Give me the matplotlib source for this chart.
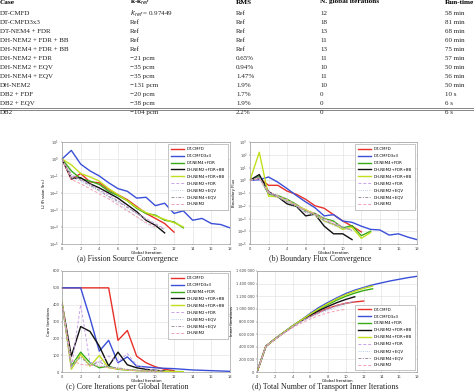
import matplotlib
matplotlib.use('Agg')
import matplotlib.pyplot as plt
from matplotlib.ticker import FuncFormatter, LogLocator, NullLocator


# --- table data ---
cases = ['DT-CMFD', 'DT-CMFD3x3', 'DT-NEM4 + FDR', 'DH-NEM2 + FDR + BB',
         'DH-NEM4 + FDR + BB', 'DH-NEM2 + FDR', 'DH-NEM2 + EQV',
         'DH-NEM4 + EQV', 'DH-NEM2', 'DB2 + FDF', 'DB2 + EQV', 'DB2']
k_diff = ['$k_{ref}$ = 0.97449', 'Ref', 'Ref', 'Ref', 'Ref', '\u221221 pcm',
          '\u221235 pcm', '\u221235 pcm', '\u2212131 pcm', '\u221220 pcm',
          '\u221238 pcm', '\u2212104 pcm']
rms = ['Ref', 'Ref', 'Ref', 'Ref', 'Ref', '0.65%', '0.94%', '1.47%', '1.9%',
       '1.7%', '1.9%', '2.2%']
n_global = ['12', '18', '13', '11', '13', '11', '10', '11', '10', '0', '0', '0']
run_time = ['58 min', '81 min', '68 min', '60 min', '75 min', '57 min',
            '50 min', '56 min', '50 min', '10 s', '6 s', '6 s']

# --- series (one list per case, index = global iteration) ---
labels = ['DT-CMFD', 'DT-CMFD3x3', 'DT-NEM4+FDR', 'DH-NEM2+FDR+BB',
          'DH-NEM4+FDR+BB', 'DH-NEM2+FDR', 'DH-NEM2+EQV', 'DH-NEM4+EQV',
          'DH-NEM2']

# (a) fission source convergence
fis_cmfd = [1, 6.3e-2, 0.14, 4.5e-2, 4e-2, 1.6e-2, 7.9e-3, 4e-3, 1.6e-3,
            6.3e-4, 3.2e-4, 1.6e-4, 5e-5]
fis_cmfd3 = [1, 3.2, 0.5, 0.2, 0.1, 4e-2, 1.8e-2, 1.26e-2, 5e-3, 5.6e-3,
             1.8e-3, 2.5e-3, 6.3e-4, 8.9e-4, 2.5e-4, 3.2e-4, 1.6e-4, 1.4e-4,
             8.9e-5]
fis_nem4 = [1, 0.2, 7e-2, 5e-2, 3.2e-2, 1.26e-2, 7e-3, 3.5e-3, 1.26e-3,
            6.3e-4, 5e-4, 2.5e-4, 2e-4, 8.9e-5]
fis_nem2_bb = [1, 7e-2, 8e-2, 3.5e-2, 2e-2, 1e-2, 5e-3, 2e-3, 8e-4, 2.5e-4,
               1.26e-4, 4.5e-5]
fis_nem4_bb = [1, 0.45, 0.14, 8.9e-2, 5e-2, 1.8e-2, 7.9e-3, 3.5e-3, 1.4e-3,
               7e-4, 4.5e-4, 2.8e-4, 1.8e-4, 1e-4]
fis_nem2_fdr = [1, 0.1, 6.3e-2, 3.2e-2, 1.6e-2, 7.9e-3, 3.5e-3, 1.6e-3,
                6.3e-4, 3.2e-4, 1.6e-4, 7.9e-5]
fis_nem2_eqv = [1, 7.9e-2, 5e-2, 2.5e-2, 1.26e-2, 5.6e-3, 2.5e-3, 1e-3,
                4e-4, 1.6e-4, 7.9e-5]
fis_nem4_eqv = [1, 0.126, 5.6e-2, 2.8e-2, 1.4e-2, 6.3e-3, 3.2e-3, 1.4e-3,
                6.3e-4, 2.8e-4, 1.4e-4, 7e-5]
fis_nem2 = [1, 6.3e-2, 3.5e-2, 1.8e-2, 8.9e-3, 4.5e-3, 2e-3, 8.9e-4, 4e-4,
            1.8e-4, 1e-4]

# (b) boundary flux convergence
bnd_cmfd = [1, 1.4, 0.4, 0.4, 0.14, 7.9e-2, 3.2e-2, 1e-2, 6.3e-3, 2e-3,
            6.3e-4, 2.5e-4, 8.9e-5]
bnd_cmfd3 = [1, 1.1, 1.8, 0.7, 0.22, 6.3e-2, 2e-2, 7e-3, 1.6e-3, 2e-3,
             6.3e-4, 5e-4, 2.5e-4, 1.4e-4, 1.26e-4, 5e-5, 6.3e-5, 3.5e-5,
             2.2e-5]
bnd_nem4 = [1, 2, 7.9e-2, 6.3e-2, 3.2e-2, 1.26e-2, 4e-3, 2.5e-3, 1e-3,
            6.3e-4, 1.8e-4, 2.8e-4, 4.5e-5, 1e-4]
bnd_nem2_bb = [1, 2.8, 0.126, 5e-2, 1.4e-2, 8.9e-3, 1.6e-3, 2.2e-3, 2.5e-4,
               6.3e-5, 6.3e-5, 2.2e-5]
bnd_nem4_bb = [1, 158, 5.6e-2, 5e-2, 2.5e-2, 1e-2, 5e-3, 2e-3, 6.3e-4,
               3.5e-4, 1.4e-4, 2e-4, 2.8e-5, 7.9e-5]
bnd_nem2_fdr = [1, 1.6, 0.1, 5e-2, 2.5e-2, 1e-2, 3.5e-3, 2e-3, 8e-4, 4e-4,
                2e-4, 1.2e-4]
bnd_nem2_eqv = [1, 1.5, 0.11, 5.6e-2, 2.2e-2, 8e-3, 3.2e-3, 1.6e-3, 6e-4,
                2.8e-4, 1.6e-4]
bnd_nem4_eqv = [1, 1.8, 9e-2, 4.5e-2, 2e-2, 1e-2, 3e-3, 2.2e-3, 7e-4,
                3.5e-4, 2.2e-4, 1.1e-4]
bnd_nem2 = [1, 1.3, 0.12, 6e-2, 3e-2, 1.2e-2, 4.5e-3, 2.5e-3, 1e-3, 5e-4,
            2.5e-4]

# (c) core iterations per global iteration
core_cmfd = [500, 500, 500, 500, 500, 500, 188, 247, 94, 55, 31, 16, 8]
core_cmfd3 = [500, 500, 500, 320, 124, 188, 55, 90, 35, 30, 25, 22, 20, 16,
              12, 10, 8, 6, 4]
core_nem4 = [410, 35, 118, 55, 25, 35, 16, 12, 9, 7, 5, 4, 3, 2]
core_nem2_bb = [410, 94, 270, 241, 153, 35, 118, 43, 25, 16, 10, 6]
core_nem4_bb = [420, 16, 104, 35, 98, 25, 18, 12, 8, 6, 4, 3, 2, 1]
core_nem2_fdr = [410, 20, 400, 55, 60, 94, 60, 110, 40, 20, 10, 5]
core_nem2_eqv = [400, 60, 80, 50, 40, 30, 20, 15, 10, 6, 4]
core_nem4_eqv = [410, 30, 90, 40, 60, 30, 25, 15, 10, 6, 4, 2]
core_nem2 = [410, 70, 45, 40, 35, 25, 18, 12, 8, 5, 3]

# (d) total number of transport inner iterations
tot_cmfd = [0, 408000, 520000, 620000, 720000, 810000, 880000, 950000,
            1010000, 1055000, 1090000, 1110000, 1124000]
tot_cmfd3 = [0, 408000, 523000, 627000, 732000, 826000, 930000, 1025000,
             1103000, 1176000, 1244000, 1297000, 1339000, 1380000, 1412000,
             1443000, 1469000, 1495000, 1516000]
tot_nem4 = [0, 408000, 522000, 625000, 728000, 820000, 910000, 995000,
            1070000, 1140000, 1200000, 1250000, 1290000, 1318000]
tot_nem2_bb = [0, 408000, 522000, 624000, 726000, 816000, 900000, 975000,
               1040000, 1100000, 1150000, 1192000]
tot_nem4_bb = [0, 408000, 523000, 627000, 730000, 824000, 918000, 1005000,
               1085000, 1160000, 1225000, 1280000, 1325000, 1360000]
tot_nem2_fdr = [0, 408000, 520000, 620000, 718000, 805000, 880000, 945000,
                1000000, 1050000, 1090000, 1120000]
tot_nem2_eqv = [0, 408000, 518000, 615000, 710000, 795000, 865000, 925000,
                975000, 1020000, 1055000]
tot_nem4_eqv = [0, 408000, 520000, 620000, 716000, 803000, 878000, 942000,
                997000, 1045000, 1085000, 1115000]
tot_nem2 = [0, 408000, 515000, 610000, 700000, 775000, 840000, 895000,
            940000, 970000, 993000]

styles = [
    dict(color='#e8302a', lw=1.0, ls='-'),
    dict(color='#3a4fd8', lw=1.0, ls='-'),
    dict(color='#3aab18', lw=1.0, ls='-'),
    dict(color='#111111', lw=1.0, ls='-'),
    dict(color='#c2df1e', lw=1.0, ls='-'),
    dict(color='#c8a2e8', lw=0.7, ls=(0, (3, 2))),
    dict(color='#b8cfe8', lw=0.7, ls=(0, (1, 1.2))),
    dict(color='#9c8c9e', lw=0.7, ls=(0, (3, 1.5, 1, 1.5))),
    dict(color='#f2a0b6', lw=0.7, ls=(0, (3, 2))),
]

W, H = 474, 392
fig = plt.figure(figsize=(W / 100, H / 100), dpi=100)
serif = 'Liberation Serif'


def fy(py):
    return 1 - py / H


# --- table ---
col_x = [0, 130, 236, 320, 445]
head = ['Case', 'k-k$_{ref}$', 'RMS', 'N. global iterations', 'Run-time']
for x, h in zip(col_x, head):
    fig.text(x / W, fy(2), h, fontsize=5.2, family=serif, weight='bold',
             va='center', ha='left')
for i in range(len(cases)):
    row = [cases[i], k_diff[i], rms[i], n_global[i], run_time[i]]
    for x, t in zip(col_x, row):
        fig.text(x / W, fy(13.5 + 9 * i), t, fontsize=5.0, family=serif,
                 va='center', ha='left', color='#222222')
fig.add_artist(plt.Line2D([0, 1], [fy(108), fy(108)], color='#555555', lw=0.5))
fig.add_artist(plt.Line2D([0, 1], [fy(109.5), fy(109.5)], color='#555555', lw=0.5))


def make_ax(l, t, r, b):
    ax = fig.add_axes([l / W, 1 - b / H, (r - l) / W, (b - t) / H])
    ax.grid(True, color='#dddddd', lw=0.4)
    ax.set_axisbelow(True)
    ax.tick_params(labelsize=2.6, length=1.0, width=0.3, pad=0.8, colors='#444444')
    for s in ax.spines.values():
        s.set_linewidth(0.4)
        s.set_color('#888888')
    ax.set_xlim(0, 18)
    ax.set_xticks(range(0, 19, 2))
    ax.set_xlabel('Global Iteration', fontsize=2.8, labelpad=0.2)
    return ax


def draw(ax, series, loc):
    for lab, ys, st in zip(labels, series, styles):
        ax.plot(range(len(ys)), ys, label=lab, **st)
    leg = ax.legend(loc=loc, fontsize=2.8, handlelength=3.2, labelspacing=0.75,
                    borderpad=0.8, fancybox=False, framealpha=1,
                    edgecolor='#999999')
    leg.get_frame().set_linewidth(0.4)


def log_ax(ax, lo, hi):
    ax.set_yscale('log')
    ax.set_ylim(lo, hi)
    ax.yaxis.set_major_locator(LogLocator(base=10, numticks=20))
    ax.yaxis.set_minor_locator(NullLocator())


ax_a = make_ax(62, 142, 230, 244)
draw(ax_a, [fis_cmfd, fis_cmfd3, fis_nem4, fis_nem2_bb, fis_nem4_bb,
            fis_nem2_fdr, fis_nem2_eqv, fis_nem4_eqv, fis_nem2], 'upper right')
log_ax(ax_a, 1e-5, 1e1)
ax_a.set_ylabel('L$_2$ (Fission Src.)', fontsize=2.8, labelpad=1)

ax_b = make_ax(250, 142, 417, 244)
draw(ax_b, [bnd_cmfd, bnd_cmfd3, bnd_nem4, bnd_nem2_bb, bnd_nem4_bb,
            bnd_nem2_fdr, bnd_nem2_eqv, bnd_nem4_eqv, bnd_nem2], 'upper right')
log_ax(ax_b, 1e-5, 1e3)
ax_b.set_ylabel('Boundary Flux', fontsize=2.8, labelpad=1)

ax_c = make_ax(62, 271, 230, 372)
draw(ax_c, [core_cmfd, core_cmfd3, core_nem4, core_nem2_bb, core_nem4_bb,
            core_nem2_fdr, core_nem2_eqv, core_nem4_eqv, core_nem2], 'upper right')
ax_c.set_ylim(0, 600)
ax_c.set_yticks(range(0, 601, 100))
ax_c.set_ylabel('Core Iterations', fontsize=2.8, labelpad=1)

ax_d = make_ax(257, 271, 417, 372)
draw(ax_d, [tot_cmfd, tot_cmfd3, tot_nem4, tot_nem2_bb, tot_nem4_bb,
            tot_nem2_fdr, tot_nem2_eqv, tot_nem4_eqv, tot_nem2], 'lower right')
ax_d.set_ylim(0, 1600000)
ax_d.set_yticks(range(0, 1600001, 200000))
ax_d.yaxis.set_major_formatter(FuncFormatter(lambda v, p: f'{v:,.0f}'.replace(',', ' ')))
ax_d.set_ylabel('Inner Iterations', fontsize=2.8, labelpad=1)

# captions
caps = [(128, 259, '(a) Fission Source Convergence'),
        (320, 259, '(b) Boundary Flux Convergence'),
        (127, 387, '(c) Core Iterations per Global Iteration'),
        (325, 387, '(d) Total Number of Transport Inner Iterations')]
for x, y, t in caps:
    fig.text(x / W, fy(y), t, fontsize=5.7, family=serif, ha='center',
             va='center', color='#222222')

fig.savefig('out.png', dpi=100)
